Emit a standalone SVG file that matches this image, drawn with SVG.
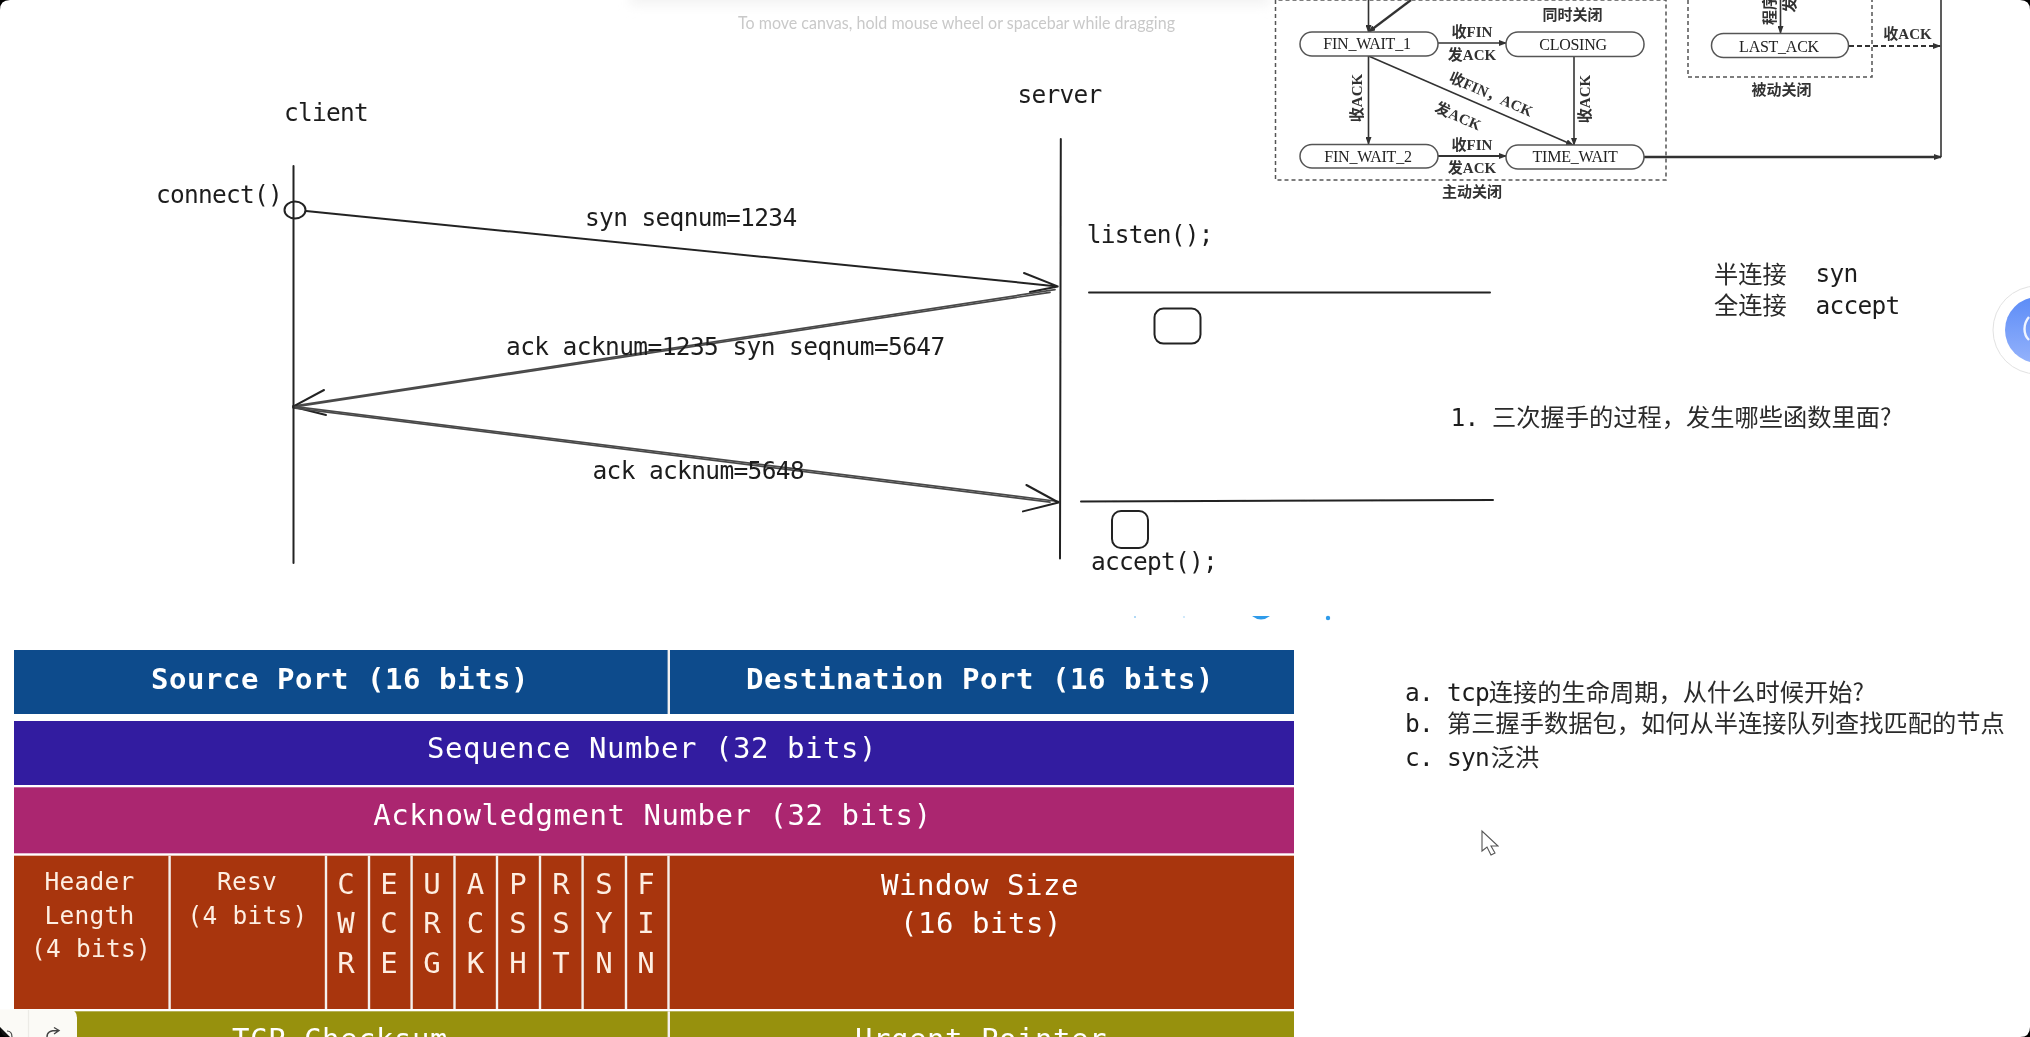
<svg xmlns="http://www.w3.org/2000/svg" width="2030" height="1037" viewBox="0 0 2030 1037">
<defs>
<style>
.hand{fill:none;stroke:#222;stroke-width:2;stroke-linecap:round;stroke-linejoin:round}
.dbl{fill:none;stroke:#4a4a4a;stroke-width:1.7;stroke-linecap:round}
.mono{font-family:"DejaVu Sans Mono","Noto Sans CJK SC",monospace;font-size:24.5px;letter-spacing:-0.75px;fill:#1c1c1c}
.cjk{font-family:"Noto Sans CJK SC","DejaVu Sans",sans-serif;font-size:24.25px;fill:#2a2a2a}
.cell{font-family:"DejaVu Sans Mono",monospace;font-size:29px;letter-spacing:0.55px;fill:#fff;text-anchor:middle}
.small{font-family:"DejaVu Sans Mono",monospace;font-size:24.5px;letter-spacing:0.25px;fill:#fdeee2;text-anchor:middle}
.flag{font-family:"DejaVu Sans Mono",monospace;font-size:29px;fill:#fdeee2;text-anchor:middle}
.state{fill:#fff;stroke:#555;stroke-width:1.5}
.stxt{font-family:"Liberation Serif",serif;font-size:16px;letter-spacing:-0.25px;fill:#222;text-anchor:middle}
.slab{font-family:"Liberation Serif","Noto Sans CJK SC",serif;font-size:15px;font-weight:bold;fill:#333;text-anchor:middle}
.dash{fill:none;stroke:#555;stroke-width:1.5;stroke-dasharray:4 3}
.sline{fill:none;stroke:#333;stroke-width:1.6}
.sep{stroke:#f4f0ee;stroke-width:2.4}
</style>
<filter id="soft" x="-5%" y="-5%" width="110%" height="110%"><feGaussianBlur stdDeviation="0.45"/></filter>
<filter id="softer" x="-5%" y="-5%" width="110%" height="110%"><feGaussianBlur stdDeviation="0.7"/></filter>
<filter id="shade" x="-10%" y="-100%" width="120%" height="300%"><feGaussianBlur stdDeviation="6"/></filter>
<marker id="sa" markerWidth="8" markerHeight="6" refX="7" refY="3" orient="auto" markerUnits="userSpaceOnUse"><path d="M0 0L8 3L0 6Z" fill="#333"/></marker>
<linearGradient id="blue" x1="0" y1="0" x2="0" y2="1"><stop offset="0" stop-color="#5c8cf7"/><stop offset="1" stop-color="#94b2fb"/></linearGradient>
</defs>
<rect width="2030" height="1037" fill="#fff"/>
<rect x="630" y="-10" width="640" height="15" fill="#f3f3f3" filter="url(#shade)"/>
<text x="738" y="29" font-family="Lato,'Open Sans',sans-serif" font-size="17" fill="#c9c9c9" textLength="437" lengthAdjust="spacingAndGlyphs" filter="url(#soft)">To move canvas, hold mouse wheel or spacebar while dragging</text>

<g id="state-diagram" filter="url(#softer)">
  <g id="state-connectors">
    <path class="sline" d="M1368.5 0V32" marker-end="url(#sa)"/>
    <path class="sline" style="stroke-width:2.2" d="M1411 0L1368.5 32" marker-end="url(#sa)"/>
    <path class="sline" d="M1438 43H1506" marker-end="url(#sa)"/>
    <path class="sline" d="M1368.5 56V144" marker-end="url(#sa)"/>
    <path class="sline" d="M1368.5 56L1573 145" marker-end="url(#sa)"/>
    <path class="sline" d="M1574 57V145" marker-end="url(#sa)"/>
    <path class="sline" style="stroke-width:2.2" d="M1438 156H1506" marker-end="url(#sa)"/>
    <path class="sline" style="stroke-width:2.4" d="M1644 157H1941" marker-end="url(#sa)"/>
    <path class="sline" d="M1941 0V157"/>
    <path class="sline" d="M1780.5 0V33" marker-end="url(#sa)"/>
    <path class="sline" style="stroke-dasharray:5 3;stroke-width:2.2" d="M1849 46H1940" marker-end="url(#sa)"/>
  </g>
  <path class="dash" d="M1275.5 0V180H1666V0H1275.5"/>
  <path class="dash" d="M1688 0V77H1872V0"/>
  <g id="fin-wait-1"><rect class="state" x="1300" y="32" width="138" height="24" rx="12"/><text class="stxt" x="1367" y="49">FIN_WAIT_1</text></g>
  <g id="closing"><rect class="state" x="1506" y="32" width="138" height="24.5" rx="12"/><text class="stxt" x="1573" y="49.5">CLOSING</text></g>
  <g id="last-ack"><rect class="state" x="1711.5" y="33.5" width="137" height="24" rx="12"/><text class="stxt" x="1779" y="51.5">LAST_ACK</text></g>
  <g id="fin-wait-2"><rect class="state" x="1300" y="144.5" width="138" height="23.5" rx="12"/><text class="stxt" x="1368" y="162">FIN_WAIT_2</text></g>
  <g id="time-wait"><rect class="state" x="1506" y="145" width="138" height="24" rx="12"/><text class="stxt" x="1575" y="162">TIME_WAIT</text></g>
  <text class="slab" x="1572.5" y="20">同时关闭</text>
  <text class="slab" x="1472" y="37">收FIN</text>
  <text class="slab" x="1472" y="60">发ACK</text>
  <text class="slab" x="1472" y="150">收FIN</text>
  <text class="slab" x="1472" y="173">发ACK</text>
  <text class="slab" x="1472" y="197">主动关闭</text>
  <text class="slab" x="1781.5" y="95">被动关闭</text>
  <text class="slab" x="1907.5" y="39">收ACK</text>
  <text class="slab" transform="translate(1362 98) rotate(-90)">收ACK</text>
  <text class="slab" transform="translate(1590 99) rotate(-90)">收ACK</text>
  <text class="slab" transform="translate(1489 99) rotate(23.5)">收FIN，ACK</text>
  <text class="slab" transform="translate(1456 121) rotate(23.5)">发ACK</text>
  <text class="slab" transform="translate(1775 10) rotate(-90)">程序</text>
  <text class="slab" transform="translate(1795 5) rotate(-90)">发</text>
</g>

<g id="connectors" filter="url(#soft)">
  <path class="hand" d="M306 211L1057.7 286.4M1024 273L1057.7 286.4L1030 292"/>
  <path class="dbl" d="M1055 289.7L293 406.2"/>
  <path class="dbl" d="M1050 292.3L293 407.2"/>
  <path class="hand" d="M324 390L293 406.7L326 415"/>
  <path class="dbl" d="M293 406.3L1058.5 501.5"/>
  <path class="dbl" d="M293 407.8L1050 502.2"/>
  <path class="hand" d="M1026.4 485L1058.5 502.5L1023 511.4"/>
</g>

<g id="sequence" filter="url(#soft)">
  <g id="client">
    <path class="hand" d="M293.5 166V563"/>
    <ellipse class="hand" cx="295" cy="210" rx="10.5" ry="8.5"/>
    <text class="mono" x="284" y="120.5">client</text>
    <text class="mono" x="156" y="203">connect()</text>
  </g>
  <g id="server">
    <path class="hand" d="M1060.8 139L1060 558.6"/>
    <text class="mono" x="1017.5" y="103">server</text>
    <text class="mono" x="1086.7" y="242.5">listen();</text>
    <text class="mono" x="1091" y="570">accept();</text>
  </g>
  <g id="half-queue">
    <path class="hand" d="M1089 292.5H1490"/>
    <rect class="hand" x="1154.5" y="308.6" width="46" height="35" rx="9"/>
  </g>
  <g id="full-queue">
    <path class="hand" d="M1081 501.5L1493 500"/>
    <rect class="hand" x="1112" y="511" width="36" height="37" rx="9"/>
  </g>
  <text class="mono" x="585" y="226" style="letter-spacing:-0.65px">syn seqnum=1234</text>
  <text class="mono" x="506" y="355" style="letter-spacing:-0.6px">ack acknum=1235 syn seqnum=5647</text>
  <text class="mono" x="592.5" y="479" style="letter-spacing:-0.65px">ack acknum=5648</text>
</g>

<g id="notes" filter="url(#soft)">
  <text class="cjk" x="1714" y="283">半连接</text><text class="mono" x="1815.5" y="282">syn</text>
  <text class="cjk" x="1714" y="314">全连接</text><text class="mono" x="1815.5" y="314">accept</text>
  <text class="mono" x="1450.5" y="426">1.</text><text class="cjk" x="1492" y="426">三次握手的过程，发生哪些函数里面?</text>
  <text class="mono" x="1405" y="700.5">a.</text><text class="mono" x="1447" y="700.5">tcp</text><text class="cjk" x="1488.7" y="700.5">连接的生命周期，从什么时候开始?</text>
  <text class="mono" x="1405" y="732">b.</text><text class="cjk" x="1447" y="732">第三握手数据包，如何从半连接队列查找匹配的节点</text>
  <text class="mono" x="1405" y="766">c.</text><text class="mono" x="1447" y="766">syn</text><text class="cjk" x="1490.8" y="766">泛洪</text>
</g>

<g id="dots" fill="#2f9bea">
  <circle cx="1135" cy="617" r="1" opacity=".5"/><circle cx="1184" cy="617" r="1" opacity=".3"/>
  <path d="M1252 616H1270Q1261 623 1252 616Z"/><circle cx="1328" cy="618" r="2.2"/>
</g>

<g id="tcp-header" filter="url(#soft)">
  <g id="row-ports">
    <rect x="14" y="650" width="1280" height="64" fill="#0b4c8c"/>
    <path class="sep" d="M668.8 650V714"/>
    <text class="cell" x="340" y="688.5" font-weight="bold">Source Port (16 bits)</text>
    <text class="cell" x="980" y="688.5" font-weight="bold">Destination Port (16 bits)</text>
  </g>
  <g id="row-seq">
    <rect x="14" y="721" width="1280" height="64" fill="#321da0"/>
    <text class="cell" x="652" y="757.5">Sequence Number (32 bits)</text>
  </g>
  <g id="row-ack">
    <rect x="14" y="787.3" width="1280" height="66" fill="#ab2570"/>
    <text class="cell" x="652.5" y="825">Acknowledgment Number (32 bits)</text>
  </g>
  <g id="row-flags">
    <rect x="14" y="855.7" width="1280" height="153.3" fill="#a8340b"/>
    <path class="sep" d="M169.6 855.7V1009M326 855.7V1009M369 855.7V1009M411.6 855.7V1009M454.5 855.7V1009M497 855.7V1009M540 855.7V1009M582.6 855.7V1009M626 855.7V1009M668.5 855.7V1009"/>
    <text class="small" x="89.5" y="890">Header</text>
    <text class="small" x="89.5" y="924">Length</text>
    <text class="small" x="91" y="957">(4 bits)</text>
    <text class="small" x="247" y="890">Resv</text>
    <text class="small" x="247.5" y="924">(4 bits)</text>
    <text class="flag" x="346" y="894">C</text><text class="flag" x="346" y="933">W</text><text class="flag" x="346" y="972.7">R</text>
    <text class="flag" x="389" y="894">E</text><text class="flag" x="389" y="933">C</text><text class="flag" x="389" y="972.7">E</text>
    <text class="flag" x="432" y="894">U</text><text class="flag" x="432" y="933">R</text><text class="flag" x="432" y="972.7">G</text>
    <text class="flag" x="475.4" y="894">A</text><text class="flag" x="475.4" y="933">C</text><text class="flag" x="475.4" y="972.7">K</text>
    <text class="flag" x="518" y="894">P</text><text class="flag" x="518" y="933">S</text><text class="flag" x="518" y="972.7">H</text>
    <text class="flag" x="561" y="894">R</text><text class="flag" x="561" y="933">S</text><text class="flag" x="561" y="972.7">T</text>
    <text class="flag" x="604" y="894">S</text><text class="flag" x="604" y="933">Y</text><text class="flag" x="604" y="972.7">N</text>
    <text class="flag" x="646" y="894">F</text><text class="flag" x="646" y="933">I</text><text class="flag" x="646" y="972.7">N</text>
    <text class="cell" x="980" y="894.5">Window Size</text>
    <text class="cell" x="981" y="933">(16 bits)</text>
  </g>
  <g id="row-checksum">
    <rect x="14" y="1011.3" width="1280" height="30" fill="#97910e"/>
    <path class="sep" d="M668.8 1011.3V1037"/>
    <text class="cell" x="340" y="1049">TCP Checksum</text>
    <text class="cell" x="981" y="1049">Urgent Pointer</text>
  </g>
</g>

<g id="toolbar">
  <path d="M0 1009.5H69Q77 1009.5 77 1018V1037H0Z" fill="#fbfaf6"/>
  <path d="M28.5 1010V1037" stroke="#ecebe6" stroke-width="1.2"/>
  <path d="M47 1037C47 1032 50 1030.5 58 1030.5M54 1027.5L59 1030.5L54 1034" fill="none" stroke="#444" stroke-width="1.4"/>
  <path d="M7 1031C10 1031 12 1033 12 1037" fill="none" stroke="#444" stroke-width="1.2"/>
  <path d="M0 1027L10 1037H0Z" fill="#111"/>
</g>

<g id="mouse-cursor" filter="url(#soft)">
  <path d="M1482 831V851L1487 847L1491 855L1495 853L1491 846L1498 846Z" fill="#fff" stroke="#555" stroke-width="1.1"/>
</g>

<g id="assistant-button">
  <circle cx="2037" cy="330" r="44" fill="#fff" stroke="#e2e2e2" stroke-width="1"/>
  <circle cx="2038" cy="330" r="33" fill="url(#blue)"/>
  <path d="M2029 317C2023 324 2023 334 2029 340" fill="none" stroke="#fff" stroke-width="2.4" opacity=".9"/>
</g>

<g id="window-corners" fill="#000">
  <path d="M0 0H10Q0 0 0 10Z"/><path d="M2030 0H2020Q2030 0 2030 10Z"/>
  <path d="M0 1037V1027Q0 1037 10 1037Z"/><path d="M2030 1037H2020Q2030 1037 2030 1027Z"/>
</g>
</svg>
